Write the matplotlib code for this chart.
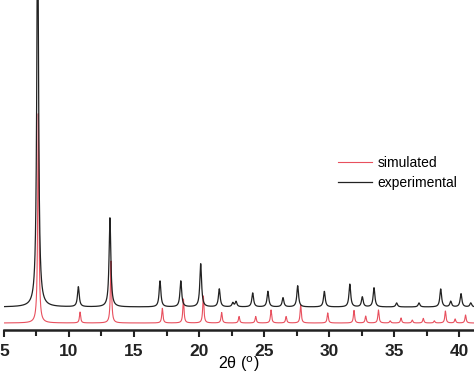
import numpy as np
import matplotlib
matplotlib.use("Agg")
import matplotlib.pyplot as plt

# peak lists: 2theta (deg), relative intensity (%)
sim_pos = [7.64, 10.85, 13.23, 17.18, 18.80, 20.33, 21.74, 23.08, 24.36, 25.54,
           26.70, 27.82, 29.90, 31.92, 32.82, 33.80, 34.70, 35.54, 36.40, 37.25,
           38.10, 38.95, 39.70, 40.50]
sim_int = [100, 5.2, 29.5, 7.0, 11.4, 12.9, 5.0, 3.1, 3.1, 6.2,
           3.1, 8.6, 4.8, 6.0, 3.3, 6.2, 1.0, 2.4, 1.4, 2.2,
           1.0, 5.7, 1.9, 3.8]

exp_pos = [7.59, 10.72, 13.15, 17.00, 18.60, 20.13, 21.56, 22.60, 22.85, 24.13,
           25.30, 26.46, 27.59, 29.64, 31.60, 32.56, 33.46, 35.20, 36.92, 38.59,
           39.36, 40.15, 40.90]
exp_int = [100, 5.0, 22.3, 6.5, 6.5, 10.8, 4.5, 1.0, 1.3, 3.5,
           3.9, 2.3, 5.3, 3.9, 5.7, 2.5, 4.8, 1.0, 1.0, 4.5,
           1.4, 3.3, 1.0]


def profile(x, pos, inten, hw):
    y = np.zeros_like(x)
    for p, h in zip(pos, inten):
        y += h * hw**2 / ((x - p)**2 + hw**2)
    return y


tt = np.linspace(5, 41.2, 6000)
sim = profile(tt, sim_pos, sim_int, 0.055) * 2.1 + 7
exp = profile(tt, exp_pos, exp_int, 0.08) * 4.0 + 23

plt.rcParams['font.family'] = ['Liberation Sans', 'DejaVu Sans']

fig = plt.figure(figsize=(4.74, 3.74), dpi=100)
ax = fig.add_axes([0.0084, 0.1176, 0.9916, 0.8824])

ax.plot(tt, sim, color="#e8505e", linewidth=0.8, label="simulated")
ax.plot(tt, exp, color="#222222", linewidth=0.9, label="experimental")

ax.set_xlim(5, 41.15)
ax.set_ylim(0, 330)
for s in ["left", "right", "top"]:
    ax.spines[s].set_visible(False)
ax.spines["bottom"].set_linewidth(1.8)
ax.spines["bottom"].set_color("#222222")
ax.set_yticks([])
ax.set_xticks([5, 10, 15, 20, 25, 30, 35, 40])
ax.set_xticks(np.arange(7.5, 41, 5), minor=True)
ax.tick_params(axis="x", which="major", direction="out", length=5, width=1.5,
               labelsize=12.5, pad=5, colors="#222222")
ax.tick_params(axis="x", which="minor", direction="out", length=4, width=1.5,
               colors="#222222")
for lbl in ax.get_xticklabels():
    lbl.set_fontweight("bold")
ax.set_xlabel("2θ ($^{\\rm o}$)", fontsize=11.5, labelpad=-3)

ax.legend(loc="upper left", bbox_to_anchor=(0.711, 0.528), frameon=False,
          fontsize=10, handlelength=2.45, handletextpad=0.4, labelspacing=0.45,
          borderpad=0, borderaxespad=0)

fig.savefig("out.png", dpi=100)
